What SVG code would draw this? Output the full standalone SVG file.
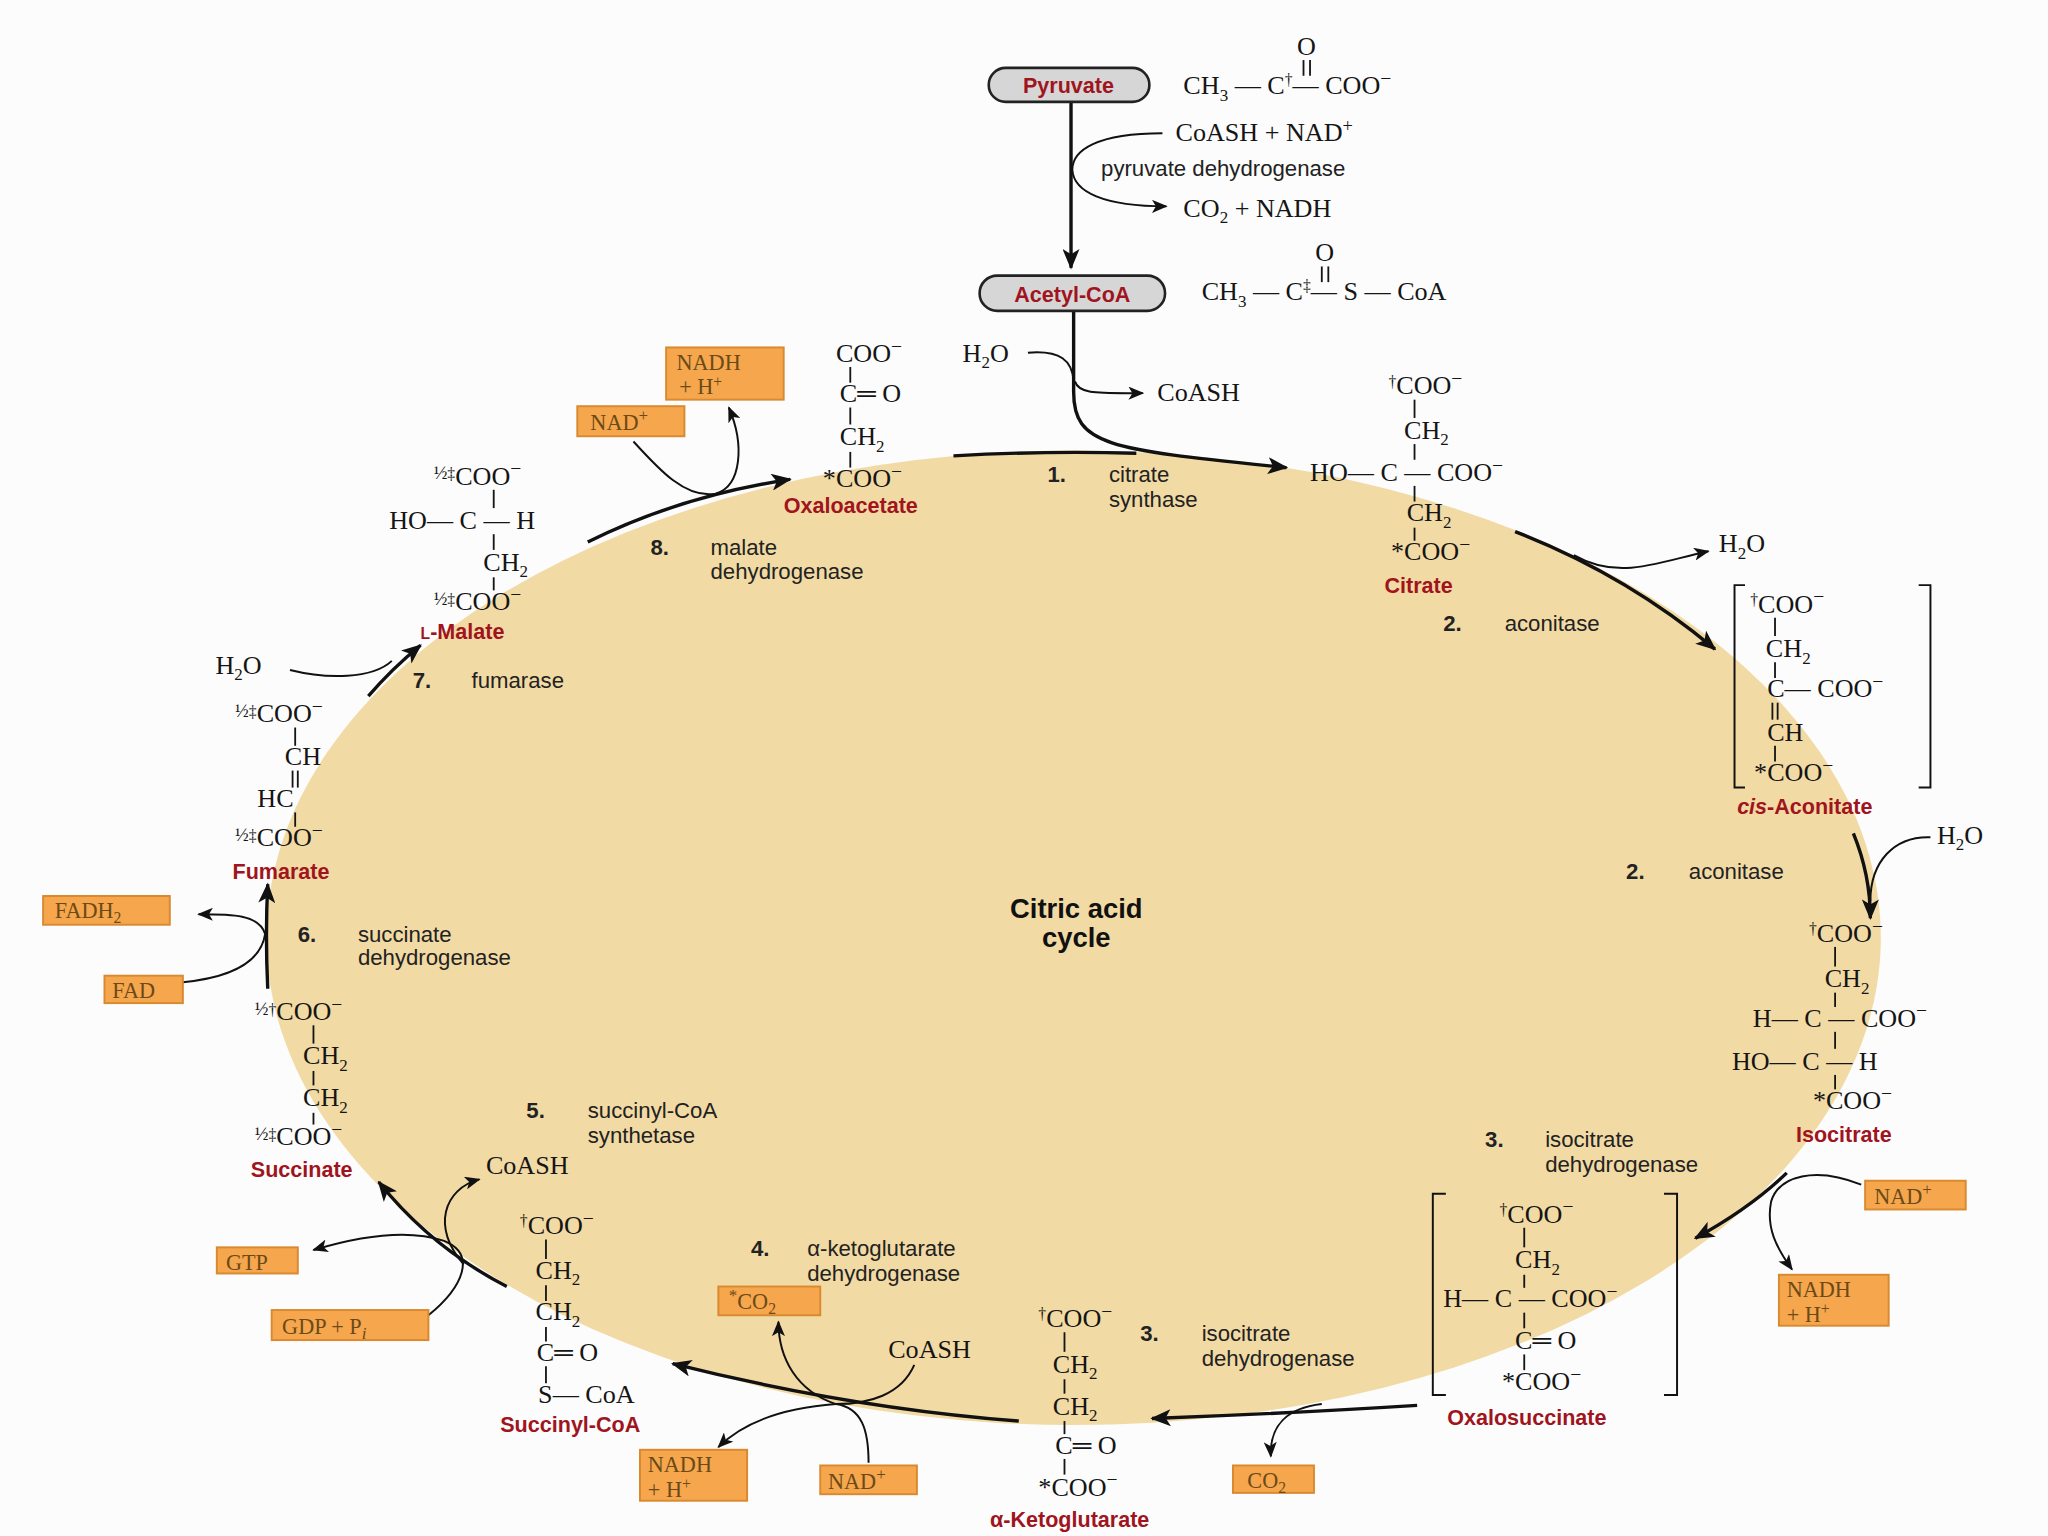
<svg xmlns="http://www.w3.org/2000/svg" width="2048" height="1536" viewBox="0 0 2048 1536">
<defs>
<style>
.chem{font-family:"Liberation Serif","DejaVu Serif",serif;font-size:20px;fill:#151515}
.sub{font-size:13px}
.enz{font-family:"Liberation Sans",Arial,sans-serif;font-size:17px;fill:#222}
.num{font-family:"Liberation Sans",Arial,sans-serif;font-size:17px;font-weight:bold;fill:#222}
.lbl{font-family:"Liberation Sans",Arial,sans-serif;font-size:16.5px;font-weight:bold;fill:#a0141e}
.title{font-family:"Liberation Sans",Arial,sans-serif;font-size:21px;font-weight:bold;fill:#111}
.bx{fill:#f6a64c;stroke:#d98a30;stroke-width:1.5}
.bxt{font-family:"Liberation Serif","DejaVu Serif",serif;font-size:17px;fill:#6a4a18}
.bond{stroke:#151515;stroke-width:1.4;fill:none}
.conn{stroke:#111;stroke-width:2.6;fill:none}
.thin{stroke:#111;stroke-width:1.5;fill:none}
.pill{fill:#d6d6d6;stroke:#222;stroke-width:2}
</style>
<marker id="ah" viewBox="0 0 12 10" refX="11" refY="5" markerWidth="12" markerHeight="10" markerUnits="userSpaceOnUse" orient="auto"><path d="M0,0 L12,5 L0,10 L3,5 z" fill="#111"/></marker>
<marker id="ah2" viewBox="0 0 12 10" refX="11" refY="5" markerWidth="16" markerHeight="13" markerUnits="userSpaceOnUse" orient="auto"><path d="M0,0 L12,5 L0,10 L3,5 z" fill="#111"/></marker>
</defs>
<rect width="2048" height="1536" fill="#fcfcfc"/>
<g transform="scale(1.30612)">
<g id="cycle-bg"><ellipse cx="822" cy="718" rx="618" ry="373" fill="#f2daa4"/></g>

<g id="connectors">
<path class="conn" d="M820,78 L820,205" marker-end="url(#ah2)"/>
<path class="thin" d="M890,102 C840,102 821,115 821,130 C822,147 845,158 893,158" marker-end="url(#ah)"/>
<path class="conn" d="M822,238 L822,300 C822,342 850,344 985,358" marker-end="url(#ah2)"/>
<path class="thin" d="M787,270 C812,268 821,276 822,292"/>
<path class="thin" d="M823,292 C826,302 840,301 875,301" marker-end="url(#ah)"/>
<path class="conn" d="M730,349 Q800,345 870,347"/>
<path class="conn" d="M1160,407 Q1245,440 1313,497" marker-end="url(#ah2)"/>
<path class="thin" d="M1205,425 C1240,445 1270,430 1308,422" marker-end="url(#ah)"/>
<path class="conn" d="M1419,638 C1428,660 1432,680 1432,703" marker-end="url(#ah2)"/>
<path class="thin" d="M1478,641 C1450,640 1432,660 1432,690"/>
<path class="conn" d="M1368,898 Q1340,925 1298,948" marker-end="url(#ah2)"/>
<path class="thin" d="M1425,907 C1390,893 1362,900 1356,920 C1352,940 1360,955 1372,972" marker-end="url(#ah)"/>
<path class="conn" d="M1085,1076 Q990,1082 882,1086" marker-end="url(#ah2)"/>
<path class="thin" d="M1012,1075 C985,1078 972,1092 973,1115" marker-end="url(#ah)"/>
<path class="conn" d="M780,1088 Q650,1078 515,1044" marker-end="url(#ah2)"/>
<path class="thin" d="M700,1045 C690,1068 665,1075 640,1075"/>
<path class="thin" d="M665,1120 C665,1095 660,1078 640,1075"/>
<path class="thin" d="M640,1075 C600,1078 570,1088 550,1108" marker-end="url(#ah)"/>
<path class="thin" d="M640,1075 C610,1065 596,1040 596,1012" marker-end="url(#ah)"/>
<path class="conn" d="M388,985 Q330,955 290,905" marker-end="url(#ah2)"/>
<path class="thin" d="M328,1007 C355,985 365,960 340,950 C310,940 270,948 240,957" marker-end="url(#ah)"/>
<path class="thin" d="M355,968 C330,940 340,910 367,903" marker-end="url(#ah)"/>
<path class="conn" d="M205,757 Q203,715 205,677" marker-end="url(#ah2)"/>
<path class="thin" d="M140,752 C180,748 200,735 203,715 C198,700 178,700 152,700" marker-end="url(#ah)"/>
<path class="conn" d="M282,533 Q300,512 322,494" marker-end="url(#ah2)"/>
<path class="thin" d="M222,513 C250,520 285,520 300,506"/>
<path class="conn" d="M450,415 Q520,380 605,367" marker-end="url(#ah2)"/>
<path class="thin" d="M485,338 C505,360 525,382 548,378 C568,372 570,340 558,312" marker-end="url(#ah)"/>
</g>

<g id="pyruvate">
<rect class="pill" x="757" y="52" width="123" height="26" rx="13"/>
<text class="lbl" x="818" y="71" text-anchor="middle">Pyruvate</text>
<text class="chem" x="906" y="72">CH<tspan class="sub" dy="5">3</tspan><tspan dy="-5"> — C</tspan><tspan font-size="12" dy="-7">†</tspan><tspan dy="7">— COO</tspan><tspan dy="-7" font-size="15">−</tspan></text>
<text class="chem" x="993" y="42">O</text>
<line class="bond" x1="998" y1="46" x2="998" y2="58"/><line class="bond" x1="1003" y1="46" x2="1003" y2="58"/>
</g>
<g id="pdh-labels">
<text class="chem" x="900" y="108">CoASH + NAD<tspan font-size="14" dy="-7">+</tspan></text>
<text class="enz" x="843" y="135">pyruvate dehydrogenase</text>
<text class="chem" x="906" y="166">CO<tspan class="sub" dy="5">2</tspan><tspan dy="-5"> + NADH</tspan></text>
</g>
<g id="acetyl-coa">
<rect class="pill" x="750" y="211" width="142" height="27" rx="13.5"/>
<text class="lbl" x="821" y="231" text-anchor="middle">Acetyl-CoA</text>
<text class="chem" x="920" y="230">CH<tspan class="sub" dy="5">3</tspan><tspan dy="-5"> — C</tspan><tspan font-size="12" dy="-7">‡</tspan><tspan dy="7">— S — CoA</tspan></text>
<text class="chem" x="1007" y="200">O</text>
<line class="bond" x1="1012" y1="204" x2="1012" y2="216"/><line class="bond" x1="1017" y1="204" x2="1017" y2="216"/>
<text class="chem" x="737" y="277">H<tspan class="sub" dy="5">2</tspan><tspan dy="-5">O</tspan></text>
<text class="chem" x="886" y="307">CoASH</text>
</g>

<g id="citrate">
<text class="chem" x="1063" y="302"><tspan font-size="12" dy="-6">†</tspan><tspan dy="6">COO</tspan><tspan font-size="15" dy="-7">−</tspan></text>
<line class="bond" x1="1083" y1="306" x2="1083" y2="320"/>
<text class="chem" x="1075" y="336">CH<tspan class="sub" dy="5">2</tspan></text>
<line class="bond" x1="1083" y1="340" x2="1083" y2="352"/>
<text class="chem" x="1003" y="368">HO— C — COO<tspan font-size="15" dy="-7">−</tspan></text>
<line class="bond" x1="1083" y1="372" x2="1083" y2="384"/>
<text class="chem" x="1077" y="399">CH<tspan class="sub" dy="5">2</tspan></text>
<line class="bond" x1="1083" y1="404" x2="1083" y2="414"/>
<text class="chem" x="1065" y="429">*COO<tspan font-size="15" dy="-7">−</tspan></text>
<text class="lbl" x="1060" y="454">Citrate</text>
<text class="chem" x="1316" y="423">H<tspan class="sub" dy="5">2</tspan><tspan dy="-5">O</tspan></text>
<text class="num" x="1105" y="483">2.</text><text class="enz" x="1152" y="483">aconitase</text>
</g>

<g id="cis-aconitate">
<path class="thin" d="M1336,448 L1328,448 L1328,603 L1336,603 M1469,448 L1478,448 L1478,603 L1469,603"/>
<text class="chem" x="1340" y="469"><tspan font-size="12" dy="-6">†</tspan><tspan dy="6">COO</tspan><tspan font-size="15" dy="-7">−</tspan></text>
<line class="bond" x1="1359" y1="473" x2="1359" y2="487"/>
<text class="chem" x="1352" y="503">CH<tspan class="sub" dy="5">2</tspan></text>
<line class="bond" x1="1359" y1="507" x2="1359" y2="519"/>
<text class="chem" x="1353" y="534">C— COO<tspan font-size="15" dy="-7">−</tspan></text>
<line class="bond" x1="1357" y1="538" x2="1357" y2="551"/><line class="bond" x1="1361" y1="538" x2="1361" y2="551"/>
<text class="chem" x="1353" y="567">CH</text>
<line class="bond" x1="1359" y1="571" x2="1359" y2="583"/>
<text class="chem" x="1343" y="598">*COO<tspan font-size="15" dy="-7">−</tspan></text>
<text class="lbl" x="1330" y="623"><tspan font-style="italic">cis</tspan>-Aconitate</text>
<text class="chem" x="1483" y="646">H<tspan class="sub" dy="5">2</tspan><tspan dy="-5">O</tspan></text>
<text class="num" x="1245" y="673">2.</text><text class="enz" x="1293" y="673">aconitase</text>
</g>

<g id="isocitrate">
<text class="chem" x="1385" y="721"><tspan font-size="12" dy="-6">†</tspan><tspan dy="6">COO</tspan><tspan font-size="15" dy="-7">−</tspan></text>
<line class="bond" x1="1405" y1="725" x2="1405" y2="740"/>
<text class="chem" x="1397" y="756">CH<tspan class="sub" dy="5">2</tspan></text>
<line class="bond" x1="1405" y1="760" x2="1405" y2="771"/>
<text class="chem" x="1342" y="786">H— C — COO<tspan font-size="15" dy="-7">−</tspan></text>
<line class="bond" x1="1405" y1="790" x2="1405" y2="803"/>
<text class="chem" x="1326" y="819">HO— C — H</text>
<line class="bond" x1="1405" y1="823" x2="1405" y2="834"/>
<text class="chem" x="1388" y="849">*COO<tspan font-size="15" dy="-7">−</tspan></text>
<text class="lbl" x="1375" y="874">Isocitrate</text>
<text class="num" x="1137" y="878">3.</text><text class="enz" x="1183" y="878">isocitrate</text><text class="enz" x="1183" y="897">dehydrogenase</text>
<rect class="bx" x="1428" y="904" width="77" height="22"/>
<text class="bxt" x="1435" y="922">NAD<tspan font-size="13" dy="-7">+</tspan></text>
<rect class="bx" x="1362" y="976" width="84" height="39"/>
<text class="bxt" x="1368" y="993">NADH</text><text class="bxt" x="1368" y="1012">+ H<tspan font-size="12" dy="-6">+</tspan></text>
</g>

<g id="oxalosuccinate">
<path class="thin" d="M1107,914 L1097,914 L1097,1068 L1107,1068 M1274,914 L1284,914 L1284,1068 L1274,1068"/>
<text class="chem" x="1148" y="936"><tspan font-size="12" dy="-6">†</tspan><tspan dy="6">COO</tspan><tspan font-size="15" dy="-7">−</tspan></text>
<line class="bond" x1="1167" y1="940" x2="1167" y2="955"/>
<text class="chem" x="1160" y="971">CH<tspan class="sub" dy="5">2</tspan></text>
<line class="bond" x1="1167" y1="976" x2="1167" y2="986"/>
<text class="chem" x="1105" y="1001">H— C — COO<tspan font-size="15" dy="-7">−</tspan></text>
<line class="bond" x1="1167" y1="1005" x2="1167" y2="1017"/>
<text class="chem" x="1160" y="1033">C═ O</text>
<line class="bond" x1="1167" y1="1037" x2="1167" y2="1049"/>
<text class="chem" x="1150" y="1064">*COO<tspan font-size="15" dy="-7">−</tspan></text>
<text class="lbl" x="1108" y="1091">Oxalosuccinate</text>
<rect class="bx" x="944" y="1122" width="62" height="21"/>
<text class="bxt" x="955" y="1139">CO<tspan font-size="12" dy="4">2</tspan></text>
<text class="num" x="873" y="1027">3.</text><text class="enz" x="920" y="1027">isocitrate</text><text class="enz" x="920" y="1046">dehydrogenase</text>
</g>

<g id="a-ketoglutarate">
<text class="chem" x="795" y="1016"><tspan font-size="12" dy="-6">†</tspan><tspan dy="6">COO</tspan><tspan font-size="15" dy="-7">−</tspan></text>
<line class="bond" x1="815" y1="1020" x2="815" y2="1035"/>
<text class="chem" x="806" y="1051">CH<tspan class="sub" dy="5">2</tspan></text>
<line class="bond" x1="815" y1="1056" x2="815" y2="1067"/>
<text class="chem" x="806" y="1083">CH<tspan class="sub" dy="5">2</tspan></text>
<line class="bond" x1="815" y1="1088" x2="815" y2="1098"/>
<text class="chem" x="808" y="1113">C═ O</text>
<line class="bond" x1="815" y1="1117" x2="815" y2="1129"/>
<text class="chem" x="795" y="1145">*COO<tspan font-size="15" dy="-7">−</tspan></text>
<text class="lbl" x="758" y="1169">α-Ketoglutarate</text>
<text class="num" x="575" y="962">4.</text><text class="enz" x="618" y="962">α-ketoglutarate</text><text class="enz" x="618" y="981">dehydrogenase</text>
<rect class="bx" x="550" y="985" width="78" height="22"/>
<text class="bxt" x="558" y="1002" fill="#e06030"><tspan font-size="13" dy="-6">*</tspan><tspan dy="6">CO</tspan><tspan font-size="12" dy="4">2</tspan></text>
<text class="chem" x="680" y="1040">CoASH</text>
<rect class="bx" x="628" y="1122" width="74" height="22"/>
<text class="bxt" x="634" y="1140">NAD<tspan font-size="13" dy="-7">+</tspan></text>
<rect class="bx" x="490" y="1110" width="82" height="39"/>
<text class="bxt" x="496" y="1127">NADH</text><text class="bxt" x="496" y="1146">+ H<tspan font-size="12" dy="-6">+</tspan></text>
</g>

<g id="succinyl-coa">
<text class="chem" x="398" y="945"><tspan font-size="12" dy="-6">†</tspan><tspan dy="6">COO</tspan><tspan font-size="15" dy="-7">−</tspan></text>
<line class="bond" x1="418" y1="949" x2="418" y2="964"/>
<text class="chem" x="410" y="979">CH<tspan class="sub" dy="5">2</tspan></text>
<line class="bond" x1="418" y1="984" x2="418" y2="996"/>
<text class="chem" x="410" y="1011">CH<tspan class="sub" dy="5">2</tspan></text>
<line class="bond" x1="418" y1="1016" x2="418" y2="1027"/>
<text class="chem" x="411" y="1042">C═ O</text>
<line class="bond" x1="418" y1="1046" x2="418" y2="1059"/>
<text class="chem" x="412" y="1074">S— CoA</text>
<text class="lbl" x="383" y="1096">Succinyl-CoA</text>
<text class="num" x="403" y="856">5.</text><text class="enz" x="450" y="856">succinyl-CoA</text><text class="enz" x="450" y="875">synthetase</text>
<text class="chem" x="372" y="899">CoASH</text>
<rect class="bx" x="166" y="955" width="62" height="20"/>
<text class="bxt" x="173" y="972">GTP</text>
<rect class="bx" x="208" y="1003" width="120" height="23"/>
<text class="bxt" x="216" y="1021">GDP + P<tspan font-style="italic" font-size="13" dy="4">i</tspan></text>
</g>

<g id="succinate">
<text class="chem" x="195" y="781"><tspan font-size="14" dy="-4">½</tspan><tspan font-size="12">†</tspan><tspan dy="4">COO</tspan><tspan font-size="15" dy="-7">−</tspan></text>
<line class="bond" x1="240" y1="785" x2="240" y2="799"/>
<text class="chem" x="232" y="815">CH<tspan class="sub" dy="5">2</tspan></text>
<line class="bond" x1="240" y1="820" x2="240" y2="831"/>
<text class="chem" x="232" y="847">CH<tspan class="sub" dy="5">2</tspan></text>
<line class="bond" x1="240" y1="852" x2="240" y2="861"/>
<text class="chem" x="195" y="877"><tspan font-size="14" dy="-4">½</tspan><tspan font-size="12">‡</tspan><tspan dy="4">COO</tspan><tspan font-size="15" dy="-7">−</tspan></text>
<text class="lbl" x="192" y="901">Succinate</text>
<text class="num" x="228" y="721">6.</text><text class="enz" x="274" y="721">succinate</text><text class="enz" x="274" y="739">dehydrogenase</text>
<rect class="bx" x="80" y="747" width="60" height="21"/>
<text class="bxt" x="86" y="764">FAD</text>
<rect class="bx" x="33" y="686" width="97" height="22"/>
<text class="bxt" x="42" y="703">FADH<tspan font-size="12" dy="4">2</tspan></text>
</g>

<g id="fumarate">
<text class="chem" x="180" y="553"><tspan font-size="14" dy="-4">½</tspan><tspan font-size="12">‡</tspan><tspan dy="4">COO</tspan><tspan font-size="15" dy="-7">−</tspan></text>
<line class="bond" x1="226" y1="557" x2="226" y2="571"/>
<text class="chem" x="218" y="586">CH</text>
<line class="bond" x1="224" y1="590" x2="224" y2="603"/><line class="bond" x1="228" y1="590" x2="228" y2="603"/>
<text class="chem" x="197" y="618">HC</text>
<line class="bond" x1="226" y1="622" x2="226" y2="633"/>
<text class="chem" x="180" y="648"><tspan font-size="14" dy="-4">½</tspan><tspan font-size="12">‡</tspan><tspan dy="4">COO</tspan><tspan font-size="15" dy="-7">−</tspan></text>
<text class="lbl" x="178" y="673">Fumarate</text>
<text class="chem" x="165" y="516">H<tspan class="sub" dy="5">2</tspan><tspan dy="-5">O</tspan></text>
<text class="num" x="316" y="527">7.</text><text class="enz" x="361" y="527">fumarase</text>
</g>

<g id="malate">
<text class="chem" x="332" y="371"><tspan font-size="14" dy="-4">½</tspan><tspan font-size="12">‡</tspan><tspan dy="4">COO</tspan><tspan font-size="15" dy="-7">−</tspan></text>
<line class="bond" x1="378" y1="375" x2="378" y2="389"/>
<text class="chem" x="298" y="405">HO— C — H</text>
<line class="bond" x1="378" y1="409" x2="378" y2="421"/>
<text class="chem" x="370" y="437">CH<tspan class="sub" dy="5">2</tspan></text>
<line class="bond" x1="378" y1="442" x2="378" y2="452"/>
<text class="chem" x="332" y="467"><tspan font-size="14" dy="-4">½</tspan><tspan font-size="12">‡</tspan><tspan dy="4">COO</tspan><tspan font-size="15" dy="-7">−</tspan></text>
<text class="lbl" x="322" y="489"><tspan font-size="12">L</tspan>-Malate</text>
<text class="num" x="498" y="425">8.</text><text class="enz" x="544" y="425">malate</text><text class="enz" x="544" y="443">dehydrogenase</text>
<rect class="bx" x="442" y="311" width="82" height="23"/>
<text class="bxt" x="452" y="329">NAD<tspan font-size="13" dy="-7">+</tspan></text>
<rect class="bx" x="510" y="266" width="90" height="40"/>
<text class="bxt" x="518" y="283">NADH</text><text class="bxt" x="520" y="302">+ H<tspan font-size="12" dy="-6">+</tspan></text>
</g>

<g id="oxaloacetate">
<text class="chem" x="640" y="277">COO<tspan font-size="15" dy="-7">−</tspan></text>
<line class="bond" x1="651" y1="281" x2="651" y2="293"/>
<text class="chem" x="643" y="308">C═ O</text>
<line class="bond" x1="651" y1="312" x2="651" y2="325"/>
<text class="chem" x="643" y="341">CH<tspan class="sub" dy="5">2</tspan></text>
<line class="bond" x1="651" y1="346" x2="651" y2="358"/>
<text class="chem" x="630" y="373">*COO<tspan font-size="15" dy="-7">−</tspan></text>
<text class="lbl" x="600" y="393">Oxaloacetate</text>
<text class="num" x="802" y="369">1.</text><text class="enz" x="849" y="369">citrate</text><text class="enz" x="849" y="388">synthase</text>
</g>

<g id="center-title">
<text class="title" x="824" y="703" text-anchor="middle">Citric acid</text>
<text class="title" x="824" y="725" text-anchor="middle">cycle</text>
</g>
</g>
</svg>
